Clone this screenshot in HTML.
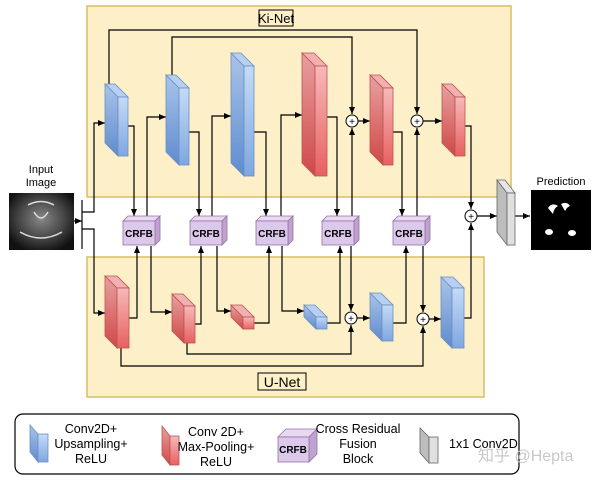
<!DOCTYPE html>
<html><head><meta charset="utf-8"><style>
html,body{margin:0;padding:0;background:#fff;}
svg{display:block;font-family:"Liberation Sans",Arial,sans-serif;}
</style></head><body>
<svg width="600" height="480" viewBox="0 0 600 480" xmlns="http://www.w3.org/2000/svg">
<defs>
<marker id="a" markerWidth="8" markerHeight="8" refX="7" refY="4" orient="auto" markerUnits="userSpaceOnUse"><path d="M0,1 L7,4 L0,7 Z" fill="#000"/></marker>
<linearGradient id="bf" x1="0" y1="0" x2="0" y2="1"><stop offset="0" stop-color="#c5dbf7"/><stop offset="1" stop-color="#7ea7e0"/></linearGradient>
<linearGradient id="bs" x1="0" y1="0" x2="0" y2="1"><stop offset="0" stop-color="#a9c4ea"/><stop offset="1" stop-color="#5f8cce"/></linearGradient>
<linearGradient id="rf" x1="0" y1="0" x2="0" y2="1"><stop offset="0" stop-color="#f7b9b9"/><stop offset="1" stop-color="#e86060"/></linearGradient>
<linearGradient id="rs" x1="0" y1="0" x2="0" y2="1"><stop offset="0" stop-color="#e8a0a0"/><stop offset="1" stop-color="#d04848"/></linearGradient>
<radialGradient id="img" cx="0.5" cy="0.45" r="0.6"><stop offset="0" stop-color="#888"/><stop offset="0.6" stop-color="#444"/><stop offset="1" stop-color="#111"/></radialGradient>
</defs>

<!-- Ki-Net box -->
<rect x="87" y="6" width="424" height="191" fill="#fdf0c8" stroke="#d8bd66" stroke-width="1.5"/>
<rect x="259" y="10" width="34" height="16" fill="#fdf0c8" stroke="#000" stroke-width="1"/>
<text x="276" y="23" font-size="13" text-anchor="middle">Ki-Net</text>
<!-- U-Net box -->
<rect x="87" y="257" width="397" height="140" fill="#fdf0c8" stroke="#d8bd66" stroke-width="1.5"/>
<rect x="258" y="373" width="48" height="17" fill="#fdf0c8" stroke="#000" stroke-width="1"/>
<text x="282" y="387" font-size="14" text-anchor="middle">U-Net</text>

<!-- input image -->
<text x="41" y="173" font-size="11" text-anchor="middle">Input</text>
<text x="41" y="186" font-size="11" text-anchor="middle">Image</text>
<rect x="9" y="193" width="65" height="57" fill="url(#img)"/>
<path d="M20,232 Q41,244 62,232 M28,205 Q41,198 54,205 M34,212 Q41,224 48,212" stroke="#ddd" stroke-width="1.5" fill="none"/>
<!-- prediction -->
<text x="561" y="185" font-size="11" text-anchor="middle">Prediction</text>
<rect x="531" y="190" width="60" height="60" fill="#000"/>
<path d="M548,208 q4,-6 10,-2 q-4,2 -5,8 z M561,204 q6,-3 9,2 q-3,1 -5,5 z" fill="#fff"/>
<ellipse cx="549" cy="232" rx="4" ry="3" fill="#fff"/><ellipse cx="572" cy="233" rx="4" ry="3" fill="#fff"/>

<g stroke="#000" stroke-width="1.2" fill="none">
<line x1="74" y1="221" x2="82" y2="221" marker-end="url(#a)"/>
<line x1="82" y1="200" x2="82" y2="249"/>
<polyline points="82,212 94,212 94,123 105,123" marker-end="url(#a)"/>
<polyline points="82,229 94,229 94,313 105,313" marker-end="url(#a)"/>
<!-- Ki skips -->
<polyline points="109,84 109,30 417,30 417,114" marker-end="url(#a)"/>
<polyline points="172,75 172,37 352,37 352,114" marker-end="url(#a)"/>
<!-- Ki flows -->
<polyline points="128,126 134,126 134,216" marker-end="url(#a)"/>
<polyline points="147,216 147,117 166,117" marker-end="url(#a)"/>
<polyline points="189,132 199,132 199,216" marker-end="url(#a)"/>
<polyline points="212,216 212,116 231,116" marker-end="url(#a)"/>
<polyline points="254,132 266,132 266,216" marker-end="url(#a)"/>
<polyline points="281,216 281,115 302,115" marker-end="url(#a)"/>
<polyline points="327,117 337,117 337,216" marker-end="url(#a)"/>
<polyline points="352,216 352,128" marker-end="url(#a)"/>
<line x1="358" y1="121" x2="370" y2="121" marker-end="url(#a)"/>
<polyline points="393,132 402,132 402,216" marker-end="url(#a)"/>
<polyline points="417,216 417,128" marker-end="url(#a)"/>
<line x1="423" y1="121" x2="442" y2="121" marker-end="url(#a)"/>
<polyline points="465,126 471,126 471,209" marker-end="url(#a)"/>
<line x1="477" y1="216" x2="497" y2="216" marker-end="url(#a)"/>
<line x1="515" y1="216" x2="530" y2="216" marker-end="url(#a)"/>
<!-- U flows -->
<polyline points="129,318 137,318 137,246" marker-end="url(#a)"/>
<polyline points="151,246 151,312 172,312" marker-end="url(#a)"/>
<polyline points="195,324 201,324 201,246" marker-end="url(#a)"/>
<polyline points="217,246 217,311 231,311" marker-end="url(#a)"/>
<polyline points="254,323 269,323 269,246" marker-end="url(#a)"/>
<polyline points="282,246 282,311 304,311" marker-end="url(#a)"/>
<polyline points="327,323 340,323 340,246" marker-end="url(#a)"/>
<polyline points="351,246 351,311" marker-end="url(#a)"/>
<line x1="357" y1="318" x2="370" y2="318" marker-end="url(#a)"/>
<polyline points="393,323 406,323 406,246" marker-end="url(#a)"/>
<polyline points="423,246 423,312" marker-end="url(#a)"/>
<line x1="429" y1="319" x2="441" y2="319" marker-end="url(#a)"/>
<polyline points="464,318 471,318 471,223" marker-end="url(#a)"/>
<!-- U skips -->
<polyline points="187,343 187,354 351,354 351,325" marker-end="url(#a)"/>
<polyline points="121,348 121,366 423,366 423,326" marker-end="url(#a)"/>
</g>

<g fill="#fff" stroke="#000" stroke-width="1">
<circle cx="352" cy="121" r="6"/><circle cx="417" cy="121" r="6"/>
<circle cx="351" cy="318" r="6"/><circle cx="423" cy="319" r="6"/>
<circle cx="471" cy="216" r="6"/>
</g>
<g font-size="10" text-anchor="middle">
<text x="352" y="125">+</text><text x="417" y="125">+</text>
<text x="351" y="322">+</text><text x="423" y="323">+</text><text x="471" y="220">+</text>
</g>

<!-- Blue blocks -->
<g stroke="#6c8ebf" stroke-width="0.8">
<polygon points="118,97 118,156 105,143 105,84" fill="url(#bs)"/><polygon points="118,97 128,97 115,84 105,84" fill="#b7cff0"/><rect x="118" y="97" width="10" height="59" fill="url(#bf)"/>
<polygon points="179,88 179,165 166,152 166,75" fill="url(#bs)"/><polygon points="179,88 189,88 176,75 166,75" fill="#b7cff0"/><rect x="179" y="88" width="10" height="77" fill="url(#bf)"/>
<polygon points="244,66 244,176 231,163 231,53" fill="url(#bs)"/><polygon points="244,66 254,66 241,53 231,53" fill="#b7cff0"/><rect x="244" y="66" width="10" height="110" fill="url(#bf)"/>
<polygon points="316,317 316,329 304,317 304,305" fill="url(#bs)"/><polygon points="316,317 327,317 315,305 304,305" fill="#b7cff0"/><rect x="316" y="317" width="11" height="12" fill="url(#bf)"/>
<polygon points="382,305 382,341 370,329 370,293" fill="url(#bs)"/><polygon points="382,305 393,305 381,293 370,293" fill="#b7cff0"/><rect x="382" y="305" width="11" height="36" fill="url(#bf)"/>
<polygon points="452,288 452,348 441,337 441,277" fill="url(#bs)"/><polygon points="452,288 464,288 453,277 441,277" fill="#b7cff0"/><rect x="452" y="288" width="12" height="60" fill="url(#bf)"/>
</g>
<!-- Red blocks -->
<g stroke="#b85450" stroke-width="0.8">
<polygon points="315,66 315,176 302,163 302,53" fill="url(#rs)"/><polygon points="315,66 327,66 314,53 302,53" fill="#f3b0b0"/><rect x="315" y="66" width="12" height="110" fill="url(#rf)"/>
<polygon points="383,88 383,165 370,152 370,75" fill="url(#rs)"/><polygon points="383,88 393,88 380,75 370,75" fill="#f3b0b0"/><rect x="383" y="88" width="10" height="77" fill="url(#rf)"/>
<polygon points="455,97 455,156 442,143 442,84" fill="url(#rs)"/><polygon points="455,97 465,97 452,84 442,84" fill="#f3b0b0"/><rect x="455" y="97" width="10" height="59" fill="url(#rf)"/>
<polygon points="117,288 117,348 105,336 105,276" fill="url(#rs)"/><polygon points="117,288 129,288 117,276 105,276" fill="#f3b0b0"/><rect x="117" y="288" width="12" height="60" fill="url(#rf)"/>
<polygon points="184,306 184,343 172,331 172,294" fill="url(#rs)"/><polygon points="184,306 195,306 183,294 172,294" fill="#f3b0b0"/><rect x="184" y="306" width="11" height="37" fill="url(#rf)"/>
<polygon points="243,317 243,329 231,317 231,305" fill="url(#rs)"/><polygon points="243,317 254,317 242,305 231,305" fill="#f3b0b0"/><rect x="243" y="317" width="11" height="12" fill="url(#rf)"/>
</g>
<!-- Gray block -->
<g stroke="#666" stroke-width="0.8">
<polygon points="507,193 507,245 497,232 497,180" fill="#bdbdbd"/><polygon points="507,193 515,193 505,180 497,180" fill="#e6e6e6"/><rect x="507" y="193" width="8" height="52" fill="#e0e0e0"/>
</g>

<!-- CRFB boxes -->
<g stroke="#9673a6" stroke-width="0.8">
<g><polygon points="123,221 128,216 160,216 155,221" fill="#e8d8f0"/><polygon points="155,221 160,216 160,240 155,245" fill="#bfa2cf"/><rect x="123" y="221" width="32" height="24" fill="#dcc8ea"/></g>
<g><polygon points="190,221 195,216 227,216 222,221" fill="#e8d8f0"/><polygon points="222,221 227,216 227,240 222,245" fill="#bfa2cf"/><rect x="190" y="221" width="32" height="24" fill="#dcc8ea"/></g>
<g><polygon points="256,221 261,216 293,216 288,221" fill="#e8d8f0"/><polygon points="288,221 293,216 293,240 288,245" fill="#bfa2cf"/><rect x="256" y="221" width="32" height="24" fill="#dcc8ea"/></g>
<g><polygon points="322,221 327,216 359,216 354,221" fill="#e8d8f0"/><polygon points="354,221 359,216 359,240 354,245" fill="#bfa2cf"/><rect x="322" y="221" width="32" height="24" fill="#dcc8ea"/></g>
<g><polygon points="393,221 398,216 430,216 425,221" fill="#e8d8f0"/><polygon points="425,221 430,216 430,240 425,245" fill="#bfa2cf"/><rect x="393" y="221" width="32" height="24" fill="#dcc8ea"/></g>
</g>
<g font-size="10" font-weight="bold" text-anchor="middle">
<text x="139" y="237">CRFB</text><text x="206" y="237">CRFB</text><text x="272" y="237">CRFB</text><text x="338" y="237">CRFB</text><text x="409" y="237">CRFB</text>
</g>

<!-- Legend -->
<rect x="15" y="414" width="504" height="60" rx="8" fill="#fff" stroke="#000" stroke-width="1.2"/>
<g stroke="#6c8ebf" stroke-width="0.8"><polygon points="38,434 38,462 30,452 30,425" fill="url(#bs)"/><rect x="38" y="434" width="10" height="28" fill="url(#bf)"/></g>
<g stroke="#b85450" stroke-width="0.8"><polygon points="170,436 170,465 162,455 162,426" fill="url(#rs)"/><rect x="170" y="436" width="9" height="29" fill="url(#rf)"/></g>
<g stroke="#9673a6" stroke-width="0.8"><polygon points="278,437 286,429 317,429 309,437" fill="#e8d8f0"/><polygon points="309,437 317,429 317,454 309,462" fill="#bfa2cf"/><rect x="278" y="437" width="31" height="25" fill="#dcc8ea"/></g>
<text x="293" y="453" font-size="10" font-weight="bold" text-anchor="middle">CRFB</text>
<g stroke="#666" stroke-width="0.8"><polygon points="429,437 429,463 420,453 420,428" fill="#bdbdbd"/><rect x="429" y="437" width="9" height="26" fill="#e0e0e0"/></g>
<g font-size="12.5" text-anchor="middle">
<text x="91" y="433">Conv2D+</text><text x="91" y="448">Upsampling+</text><text x="91" y="463">ReLU</text>
<text x="216" y="436">Conv 2D+</text><text x="216" y="451">Max-Pooling+</text><text x="216" y="466">ReLU</text>
<text x="358" y="433">Cross Residual</text><text x="358" y="448">Fusion</text><text x="358" y="463">Block</text>
</g>
<text x="449" y="448" font-size="12.5">1x1 Conv2D</text>
<text x="478" y="461" font-size="16" fill="#c8c8c8" font-family="'Liberation Sans','Noto Sans CJK SC',sans-serif">知乎 @Hepta</text>
</svg>
</body></html>
